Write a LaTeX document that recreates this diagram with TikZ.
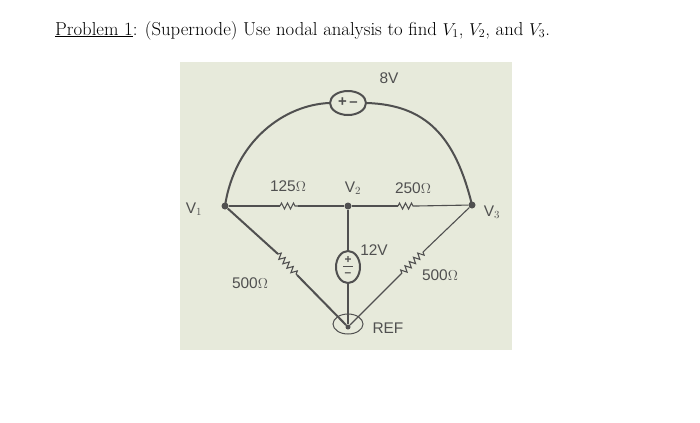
\documentclass[tikz,border=0pt]{standalone}
\usepackage{fontspec}
\usetikzlibrary{decorations.pathmorphing,shapes.geometric}
\setsansfont{Liberation Sans}
\definecolor{paper}{RGB}{231,234,219}
\definecolor{ink}{RGB}{80,80,80}
\begin{document}
\begin{tikzpicture}[x={(1bp,0)},y={(0,-1bp)},
  wire/.style={ink,line width=2bp},
  thin wire/.style={ink,line width=1.1bp},
  res/.style={decorate,decoration={zigzag,segment length=6bp,amplitude=3bp}},
  lab/.style={ink,font=\sffamily\fontsize{15.5}{16}\selectfont},
  sign/.style={ink,font=\sffamily\bfseries\fontsize{12}{12}\selectfont,inner sep=0},
  dot/.style={circle,fill=ink,inner sep=0,minimum size=7bp}]
\useasboundingbox (0,0) rectangle (700,422);
\node[anchor=base west,inner sep=0,font=\fontsize{18.8}{20}\selectfont] (title) at (55,35) {\underline{Problem 1}: (Supernode) Use nodal analysis to find $V_1$, $V_2$, and $V_3$.};
\fill[paper] (180,62) rectangle (512,350);
\node[dot] (v1) at (225,206) {};
\node[dot] (v2) at (348,206) {};
\node[dot] (v3) at (472,205) {};
\node[dot,minimum size=5bp] (ref) at (348,327) {};
\node[draw=ink,line width=1bp,ellipse,minimum width=30bp,minimum height=20bp,inner sep=0] (refc) at (348,324) {};
\node[draw=ink,wire,ellipse,minimum width=36bp,minimum height=24bp,inner sep=0] (s8) at (348,103) {};
\node[ink,font=\sffamily\bfseries\fontsize{15}{16}\selectfont] at (348,102) {+\,–};
\node[draw=ink,wire,ellipse,minimum width=24bp,minimum height=32bp,inner sep=0] (s12) at (348,267) {};
\node[sign] (plus) at (348,260) {+};
\draw[ink,line width=1bp] (343,266.5) -- (353,266.5);
\node[sign] (minus) at (348,275) {–};
\draw[wire] (v1.center) .. controls (235,140) and (285,105) .. (s8.west);
\draw[wire] (s8.east) .. controls (425,105) and (455,135) .. (v3.center);
\draw[thin wire] (v1) -- (280,206) coordinate (a);
\draw[thin wire,res] (a) -- (298,206) coordinate (b);
\draw[thin wire] (b) -- (v2);
\draw[wire] (v2) -- (398,206) coordinate (c);
\draw[thin wire,res] (c) -- (416,206) coordinate (d);
\draw[thin wire] (d) -- (v3);
\draw[wire] (v2) -- (s12);
\draw[wire] (s12) -- (ref);
\draw[wire] (v1) -- (278,254) coordinate (e);
\draw[thin wire,res] (e) -- (297,275) coordinate (f);
\draw[wire] (f) -- (ref);
\draw[thin wire] (v3) -- (423,252) coordinate (g);
\draw[thin wire,res] (g) -- (401,274) coordinate (h);
\draw[thin wire] (h) -- (ref);
\node[lab] at (389,78) {8V};
\node[lab] at (288,186) {125$\Omega$};
\node[lab] at (353,188) {V$_2$};
\node[lab] at (413,188) {250$\Omega$};
\node[lab] at (194,209) {V$_1$};
\node[lab] at (492,212) {V$_3$};
\node[lab] at (374,250) {12V};
\node[lab] at (250,283) {500$\Omega$};
\node[lab] at (440,275) {500$\Omega$};
\node[lab,anchor=west] at (369,328) {REF};
\end{tikzpicture}
\end{document}
